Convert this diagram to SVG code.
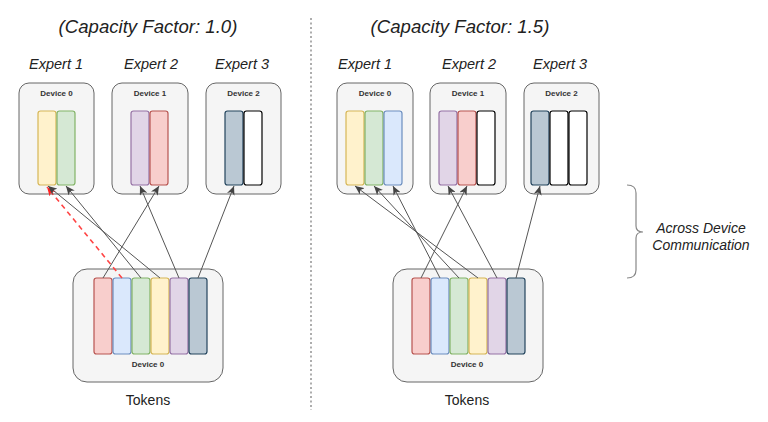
<svg xmlns="http://www.w3.org/2000/svg" width="768" height="422" viewBox="0 0 768 422">
<style>
.t{font-family:"Liberation Sans",Arial,sans-serif;fill:#222;}
.ti{font-style:italic;font-size:18.6px;}
.ex{font-style:italic;font-size:14.5px;}
.dv{font-weight:bold;font-size:8px;fill:#333;}
.tk{font-size:14px;}
.box{fill:#f5f5f5;stroke:#666;stroke-width:1;}
.b{stroke-width:1.2;}
.y{fill:#fff2cc;stroke:#d6b656;}
.g{fill:#d5e8d4;stroke:#82b366;}
.bl{fill:#dae8fc;stroke:#6c8ebf;}
.r{fill:#f8cecc;stroke:#b85450;}
.p{fill:#e1d5e7;stroke:#9673a6;}
.s{fill:#bac8d3;stroke:#23445d;}
.w{fill:#fff;stroke:#000;}
.c{stroke:#555;stroke-width:1;fill:none;marker-end:url(#ah);}
.cd{stroke:#ff4444;stroke-width:1.6;stroke-dasharray:5,4;fill:none;marker-end:url(#ahr);}
</style>
<defs>
<marker id="ah" markerUnits="userSpaceOnUse" markerWidth="10" markerHeight="8" refX="9" refY="4" orient="auto"><path d="M0,0 L9,4 L0,8 L2.5,4 z" fill="#444"/></marker>
<marker id="ahr" markerUnits="userSpaceOnUse" markerWidth="10" markerHeight="8" refX="9" refY="4" orient="auto"><path d="M0,0 L9,4 L0,8 L2.5,4 z" fill="#ff2222"/></marker>
</defs>

<rect width="768" height="422" fill="#fff"/>

<text class="t ti" x="148" y="33" text-anchor="middle">(Capacity Factor: 1.0)</text>
<text class="t ti" x="460" y="33" text-anchor="middle">(Capacity Factor: 1.5)</text>

<line x1="311" y1="18" x2="311" y2="410" stroke="#777" stroke-width="1.2" stroke-dasharray="2,2.5"/>

<g id="left-expert-labels">
<text class="t ex" x="56" y="69" text-anchor="middle">Expert 1</text>
<text class="t ex" x="151" y="69" text-anchor="middle">Expert 2</text>
<text class="t ex" x="242" y="69" text-anchor="middle">Expert 3</text>
</g>
<g id="right-expert-labels">
<text class="t ex" x="365" y="69" text-anchor="middle">Expert 1</text>
<text class="t ex" x="469" y="69" text-anchor="middle">Expert 2</text>
<text class="t ex" x="560" y="69" text-anchor="middle">Expert 3</text>
</g>

<g id="L-dev0">
<rect class="box" x="19" y="83" width="75" height="111" rx="10"/>
<text class="t dv" x="56.5" y="96" text-anchor="middle">Device 0</text>
<rect class="b y" x="38" y="111" width="18" height="74" rx="2.5"/>
<rect class="b g" x="57" y="111" width="18" height="74" rx="2.5"/>
</g>
<g id="L-dev1">
<rect class="box" x="112" y="83" width="76" height="111" rx="10"/>
<text class="t dv" x="150" y="96" text-anchor="middle">Device 1</text>
<rect class="b p" x="131" y="111" width="18" height="74" rx="2.5"/>
<rect class="b r" x="150" y="111" width="18" height="74" rx="2.5"/>
</g>
<g id="L-dev2">
<rect class="box" x="206" y="83" width="75" height="111" rx="10"/>
<text class="t dv" x="243.5" y="96" text-anchor="middle">Device 2</text>
<rect class="b s" x="225" y="111" width="18" height="74" rx="2.5"/>
<rect class="b w" x="244" y="111" width="18" height="74" rx="2.5"/>
</g>

<g id="R-dev0">
<rect class="box" x="337" y="83" width="76" height="111" rx="10"/>
<text class="t dv" x="375" y="96" text-anchor="middle">Device 0</text>
<rect class="b y" x="346" y="111" width="18" height="74" rx="2.5"/>
<rect class="b g" x="365" y="111" width="18" height="74" rx="2.5"/>
<rect class="b bl" x="384" y="111" width="18" height="74" rx="2.5"/>
</g>
<g id="R-dev1">
<rect class="box" x="430" y="83" width="76" height="111" rx="10"/>
<text class="t dv" x="468" y="96" text-anchor="middle">Device 1</text>
<rect class="b p" x="439" y="111" width="18" height="74" rx="2.5"/>
<rect class="b r" x="458" y="111" width="18" height="74" rx="2.5"/>
<rect class="b w" x="477" y="111" width="18" height="74" rx="2.5"/>
</g>
<g id="R-dev2">
<rect class="box" x="524" y="83" width="75" height="111" rx="10"/>
<text class="t dv" x="561.5" y="96" text-anchor="middle">Device 2</text>
<rect class="b s" x="531" y="111" width="18" height="74" rx="2.5"/>
<rect class="b w" x="550" y="111" width="18" height="74" rx="2.5"/>
<rect class="b w" x="569" y="111" width="18" height="74" rx="2.5"/>
</g>

<g id="L-tokens">
<rect class="box" x="73" y="269" width="150" height="113" rx="14"/>
<rect class="b r" x="94" y="278" width="18" height="76" rx="2.5"/>
<rect class="b bl" x="113" y="278" width="18" height="76" rx="2.5"/>
<rect class="b g" x="132" y="278" width="18" height="76" rx="2.5"/>
<rect class="b y" x="151" y="278" width="18" height="76" rx="2.5"/>
<rect class="b p" x="170" y="278" width="18" height="76" rx="2.5"/>
<rect class="b s" x="189" y="278" width="18" height="76" rx="2.5"/>
<text class="t dv" x="148" y="367" text-anchor="middle">Device 0</text>
<text class="t tk" x="148" y="405" text-anchor="middle">Tokens</text>
</g>

<g id="R-tokens">
<rect class="box" x="393" y="269" width="150" height="113" rx="14"/>
<rect class="b r" x="412" y="278" width="18" height="76" rx="2.5"/>
<rect class="b bl" x="431" y="278" width="18" height="76" rx="2.5"/>
<rect class="b g" x="450" y="278" width="18" height="76" rx="2.5"/>
<rect class="b y" x="469" y="278" width="18" height="76" rx="2.5"/>
<rect class="b p" x="488" y="278" width="18" height="76" rx="2.5"/>
<rect class="b s" x="507" y="278" width="18" height="76" rx="2.5"/>
<text class="t dv" x="467" y="367" text-anchor="middle">Device 0</text>
<text class="t tk" x="467" y="405" text-anchor="middle">Tokens</text>
</g>

<g id="connectors">
<line class="c" x1="103" y1="278" x2="159" y2="186"/>
<line class="cd" x1="122" y1="278" x2="47" y2="187"/>
<line class="c" x1="141" y1="278" x2="66" y2="186"/>
<line class="c" x1="160" y1="278" x2="48" y2="186"/>
<line class="c" x1="179" y1="278" x2="140" y2="186"/>
<line class="c" x1="198" y1="278" x2="234" y2="186"/>

<line class="c" x1="421" y1="278" x2="467" y2="186"/>
<line class="c" x1="440" y1="278" x2="393" y2="186"/>
<line class="c" x1="459" y1="278" x2="374" y2="186"/>
<line class="c" x1="478" y1="278" x2="355" y2="186"/>
<line class="c" x1="497" y1="278" x2="448" y2="186"/>
<line class="c" x1="516" y1="278" x2="540" y2="186"/>
</g>

<g id="brace">
<path d="M627,185 Q636,185 636,193 L636,226 Q636,232 643,232 Q636,232 636,238 L636,270 Q636,278 627,278" fill="none" stroke="#888" stroke-width="1.2"/>
<text class="t tk" x="701" y="233" text-anchor="middle" font-style="italic">Across Device</text>
<text class="t tk" x="701" y="250" text-anchor="middle" font-style="italic">Communication</text>
</g>
</svg>
